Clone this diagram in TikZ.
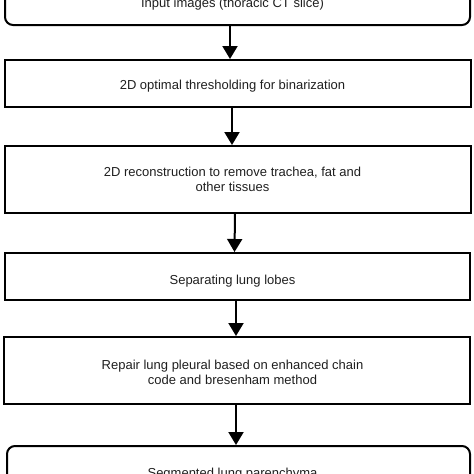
\documentclass[tikz,border=0pt]{standalone}
\usepackage{fontspec}
\setmainfont{Liberation Sans}
\usetikzlibrary{arrows.meta}
\begin{document}
\begin{tikzpicture}[x=1pt,y=1pt,
  txt/.style={font=\fontsize{13}{14.8}\selectfont, text=black!88, align=center, anchor=base, inner sep=0pt},
  stepbox/.style={draw=black, line width=2pt, inner sep=0pt},
  arr/.style={line width=2pt, -{Triangle[width=15pt,length=13pt]}}]
\useasboundingbox (0,0) rectangle (474,-474);
\clip (0,0) rectangle (474,-474);
\node[stepbox, rounded corners=8pt, minimum width=465pt, minimum height=46pt] (b1) at (237.5,-2) {};
\node[txt] (t1) at (232.5,-7) {Input images (thoracic CT slice)};
\node[stepbox, minimum width=466pt, minimum height=47pt] (b2) at (238,-83.5) {};
\node[txt] (t2) at (232.5,-89) {2D optimal thresholding for binarization};
\node[stepbox, minimum width=466pt, minimum height=67pt] (b3) at (238,-179.5) {};
\node[txt] (t3) at (232.5,-191) {2D reconstruction to remove trachea, fat and\\other tissues};
\node[stepbox, minimum width=465pt, minimum height=47pt] (b4) at (237.5,-276.5) {};
\node[txt] (t4) at (232.5,-284) {Separating lung lobes};
\node[stepbox, minimum width=466pt, minimum height=67pt] (b5) at (237,-370.5) {};
\node[txt] (t5) at (232.5,-384) {Repair lung pleural based on enhanced chain\\code and bresenham method};
\node[stepbox, rounded corners=8pt, minimum width=463pt, minimum height=60pt] (b6) at (238.5,-476) {};
\node[txt] (t6) at (232.5,-477.5) {Segmented lung parenchyma};
\draw[arr] ([xshift=-7.5pt]b1.south) -- ([xshift=-8pt]b2.north);
\draw[arr] ([xshift=-6pt]b2.south) -- ([xshift=-6pt]b3.north);
\draw[arr] ([xshift=-3pt]b3.south) -- ([xshift=-3pt]b4.north);
\draw[arr] ([xshift=-1.5pt]b4.south) -- ([xshift=-1pt]b5.north);
\draw[arr] ([xshift=-1pt]b5.south) -- ([xshift=-2.5pt]b6.north);
\end{tikzpicture}
\end{document}
